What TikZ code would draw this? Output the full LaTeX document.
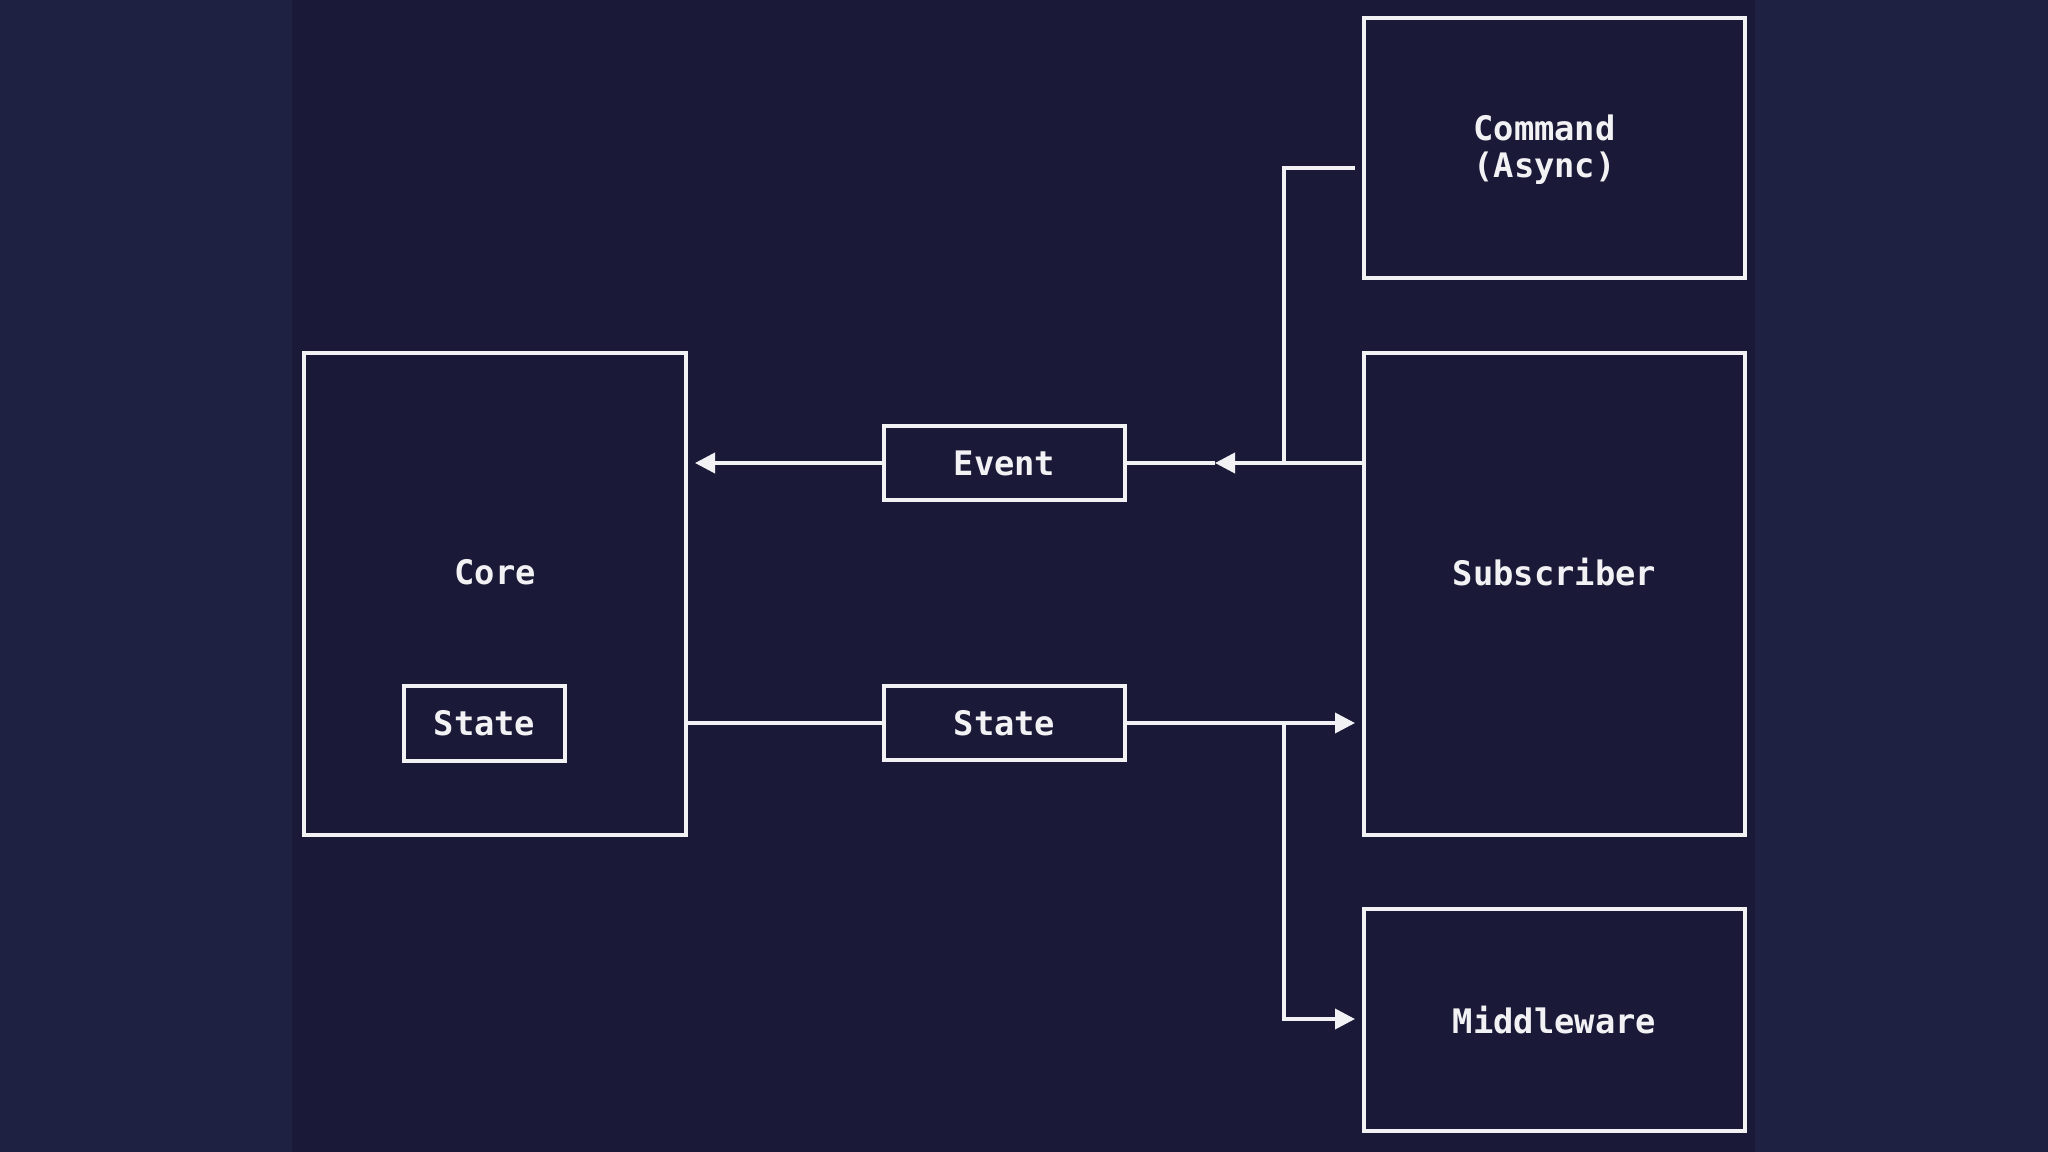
\documentclass[tikz,border=0pt]{standalone}
\usepackage{fontspec}
\newfontfamily\monofont{DejaVu Sans Mono}
\usetikzlibrary{arrows.meta}

\definecolor{bgouter}{HTML}{1F2142}
\definecolor{bginner}{HTML}{1A1A38}
\definecolor{linewhite}{HTML}{F2F2F5}

\tikzset{
  txt/.style={text=linewhite, font=\monofont\bfseries\fontsize{9.6}{10.5}\selectfont, align=center},
  box/.style={txt, draw=linewhite, line width=1.05pt, inner sep=0pt, outer sep=0pt},
  wire/.style={draw=linewhite, line width=1.05pt},
  arr/.style={wire, -{Triangle[length=0.2cm, width=0.2cm]}},
}

\begin{document}
\begin{tikzpicture}[x=0.01cm, y=-0.01cm]
  % background
  \fill[bgouter] (0,0) rectangle (2048,1152);
  \fill[bginner] (292,0) rectangle (1755,1152);
  \useasboundingbox (0,0) rectangle (2048,1152);

  % left side
  \node[box, minimum width=3.82cm, minimum height=4.82cm,
        label={[txt, yshift=0.22cm]center:Core}] (core) at (495,594) {};
  \node[box, minimum width=1.61cm, minimum height=0.75cm] (corestate) at (484.5,723.5) {State};

  % middle
  \node[box, minimum width=2.41cm, minimum height=0.74cm] (event) at (1004.5,463) {Event};
  \node[box, minimum width=2.41cm, minimum height=0.74cm] (state) at (1004.5,723) {State};

  % right side
  \node[box, minimum width=3.81cm, minimum height=2.60cm,
        label={[txt, xshift=-0.1cm, yshift=-0.02cm]center:Command\\(Async)}] (command) at (1554.5,148) {};
  \node[box, minimum width=3.81cm, minimum height=4.82cm,
        label={[txt, yshift=0.22cm]center:Subscriber}] (subscriber) at (1554.5,594) {};
  \node[box, minimum width=3.81cm, minimum height=2.22cm] (middleware) at (1554.5,1020) {Middleware};

  % free ends and joints
  \coordinate (coretip) at (695,463);
  \coordinate (evtip) at (1215,463);
  \coordinate (evjoin) at (1284,463);
  \coordinate (cmdout) at (1355,168);
  \coordinate (stjoin) at (1284,723);
  \coordinate (subin) at (1355,723);
  \coordinate (mwin) at (1355,1019);

  % event flow
  \draw[arr] (subscriber.west |- event.east) -- (evtip);
  \draw[wire] (evtip) -- (event.east);
  \draw[arr] (event.west) -- (coretip);
  \draw[wire] (cmdout) -| (evjoin);

  % state flow
  \draw[wire] (core.east |- state.west) -- (state.west);
  \draw[arr] (state.east) -- (subin);
  \draw[arr] (stjoin) |- (mwin);
\end{tikzpicture}
\end{document}
